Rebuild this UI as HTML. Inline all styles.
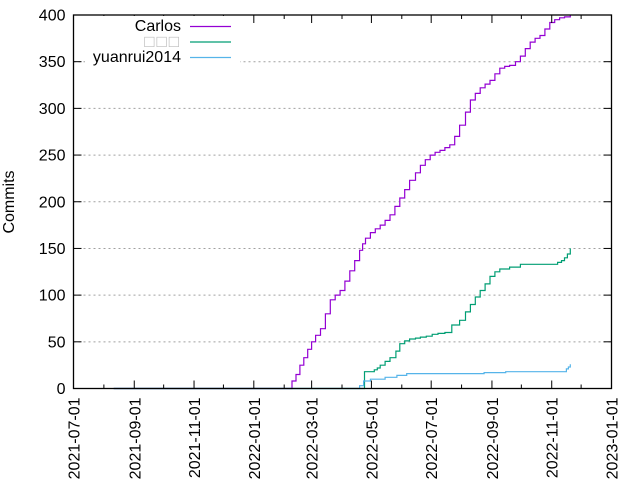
<!DOCTYPE html>
<html><head><meta charset="utf-8">
<style>
html,body{margin:0;padding:0;background:#fff;}
svg{display:block;font-family:"Liberation Sans","Noto Sans CJK SC",sans-serif;}
</style></head>
<body>
<svg id="chart" width="640" height="480" viewBox="0 0 640 480" xmlns="http://www.w3.org/2000/svg">
<rect x="0" y="0" width="640" height="480" fill="#fff"/>
<g id="grid"></g>
<g id="series"></g>
<g id="axes"></g>
<text transform="translate(14,202) rotate(-90)" text-anchor="middle" font-size="16" fill="#000">Commits</text>
<g id="legend">
  <rect x="85" y="16" width="155" height="52" fill="#fff"/>
  <text x="181" y="31" text-anchor="end" font-size="16" fill="#000">Carlos</text>
  <line x1="190" y1="26.5" x2="231" y2="26.5" stroke="#9400d3" stroke-width="1.2"/>
  <text x="181" y="47" text-anchor="end" font-size="17" letter-spacing="2" fill="#bbb">□□□</text>
  <line x1="190" y1="42" x2="231" y2="42" stroke="#009e73" stroke-width="1.2"/>
  <text x="181" y="62" text-anchor="end" font-size="16" fill="#000">yuanrui2014</text>
  <line x1="190" y1="57.5" x2="231" y2="57.5" stroke="#56b4e9" stroke-width="1.2"/>
</g>
</svg>
<script>
const carlosDates = ["2021-08-11","2022-02-07","2022-02-09","2022-02-13","2022-02-17","2022-02-21","2022-02-25","2022-03-01","2022-03-05","2022-03-10","2022-03-15","2022-03-20","2022-03-25","2022-03-30","2022-04-04","2022-04-09","2022-04-14","2022-04-19","2022-04-22","2022-04-25","2022-04-30","2022-05-05","2022-05-10","2022-05-15","2022-05-20","2022-05-25","2022-05-30","2022-06-04","2022-06-09","2022-06-15","2022-06-20","2022-06-25","2022-06-30","2022-07-05","2022-07-10","2022-07-15","2022-07-20","2022-07-25","2022-07-30","2022-08-05","2022-08-10","2022-08-15","2022-08-20","2022-08-25","2022-08-30","2022-09-04","2022-09-09","2022-09-14","2022-09-19","2022-09-25","2022-09-30","2022-10-05","2022-10-10","2022-10-15","2022-10-20","2022-10-25","2022-10-30","2022-11-04","2022-11-09","2022-11-14","2022-11-20"];
const carlosValues = [0,0,8,15,25,33,42,50,57,64,80,95,100,105,115,126,137,148,155,161,167,171,175,180,186,195,204,213,223,231,239,245,250,253,255,258,261,270,282,296,309,316,322,326,330,337,343,345,346,350,356,364,371,375,378,385,392,395,397,398,400];
const author2Dates = ["2021-08-11","2022-04-22","2022-04-24","2022-05-04","2022-05-07","2022-05-10","2022-05-15","2022-05-20","2022-05-26","2022-05-30","2022-06-04","2022-06-09","2022-06-15","2022-06-20","2022-06-26","2022-07-02","2022-07-08","2022-07-15","2022-07-22","2022-07-30","2022-08-05","2022-08-10","2022-08-15","2022-08-20","2022-08-25","2022-08-30","2022-09-04","2022-09-09","2022-09-19","2022-09-30","2022-10-20","2022-11-07","2022-11-11","2022-11-14","2022-11-17","2022-11-20"];
const author2Values = [0,0,18,20,22,25,29,33,40,48,51,53,54,55,56,58,59,60,68,73,82,90,98,105,112,120,125,128,130,133,133,135,137,140,144,150];
const yuanDates = ["2021-08-11","2022-04-19","2022-04-23","2022-04-30","2022-05-15","2022-05-27","2022-06-06","2022-08-24","2022-09-15","2022-11-13","2022-11-16","2022-11-18","2022-11-20"];
const yuanValues = [0,3,8,10,12,14,16,17,18,18,21,23,26];
const yTicks = [0,50,100,150,200,250,300,350,400];
const xTickLabels = ["2021-07-01","2021-09-01","2021-11-01","2022-01-01","2022-03-01","2022-05-01","2022-07-01","2022-09-01","2022-11-01","2023-01-01"];

const NS="http://www.w3.org/2000/svg";
const L=73.5,R=611.5,T=15,B=388.5;
const x0=Date.UTC(2021,6,1), x1=Date.UTC(2023,0,1);
function d(s){const p=s.split("-");return Date.UTC(+p[0],+p[1]-1,+p[2]);}
function xs(s){return L+(d(s)-x0)/(x1-x0)*(R-L);}
function ys(v){return B-v/400*(B-T);}
function mk(tag,attrs,parent){const e=document.createElementNS(NS,tag);for(const k in attrs)e.setAttribute(k,attrs[k]);parent.appendChild(e);return e;}
const grid=document.getElementById("grid"),axes=document.getElementById("axes"),series=document.getElementById("series");

yTicks.forEach(v=>{
  const y=ys(v);
  if(v>0&&v<400){
    const g=mk("line",{x1:L,x2:R,y1:y,y2:y,stroke:"#a0a0a0","stroke-dasharray":"2,3","stroke-width":1},grid);
    
    
  }
  const t=mk("line",{x1:L,x2:L+8,y1:y,y2:y,stroke:"#000"},axes);
  
  
  const t2=mk("line",{x1:R-8,x2:R,y1:y,y2:y,stroke:"#000"},axes);
  
  
  const lb=mk("text",{x:L-8,y:y+5.5,"text-anchor":"end","font-size":16},axes);
  lb.textContent=v;
  
  
});
for(let m=0;m<=18;m++){
  const dt=new Date(Date.UTC(2021,6+m,1));
  const x=L+(dt-x0)/(x1-x0)*(R-L);
  const major=(m%2===0);
  const len=major?8:4;
  const a=mk("line",{x1:x,x2:x,y1:B,y2:B-len,stroke:"#000"},axes);
  
  
  const b=mk("line",{x1:x,x2:x,y1:T,y2:T+len,stroke:"#000"},axes);
  
  
}
xTickLabels.forEach(s=>{
  const x=xs(s);
  const lb=mk("text",{transform:`translate(${x+6},${B+9}) rotate(-90)`,"text-anchor":"end","font-size":16},axes);
  lb.textContent=s;
  
  
});
const border=mk("rect",{x:L,y:T,width:R-L,height:B-T,fill:"none",stroke:"#000","stroke-width":1.3},axes);



function stepPath(dates,vals){
  let p="M"+xs(dates[0]).toFixed(1)+","+ys(vals[0]).toFixed(1);
  for(let i=1;i<dates.length;i++){
    p+=" H"+xs(dates[i]).toFixed(1)+" V"+ys(vals[i]).toFixed(1);
  }
  return p;
}
const s1=mk("path",{d:stepPath(carlosDates,carlosValues),fill:"none",stroke:"#9400d3","stroke-width":1.2},series);


const s2=mk("path",{d:stepPath(author2Dates,author2Values),fill:"none",stroke:"#009e73","stroke-width":1.2},series);


const s3=mk("path",{d:stepPath(yuanDates,yuanValues),fill:"none",stroke:"#56b4e9","stroke-width":1.2},series);


</script>
</body></html>
